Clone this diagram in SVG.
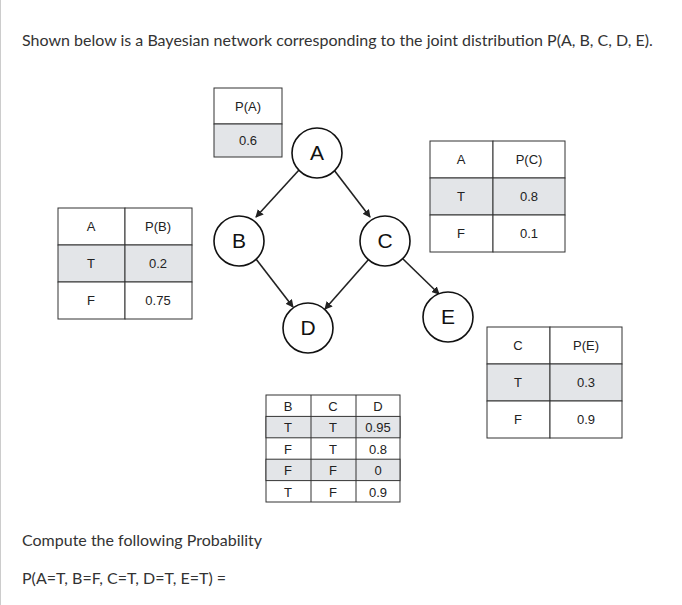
<svg xmlns="http://www.w3.org/2000/svg" width="682" height="605" viewBox="0 0 682 605">
<style>
.t{font-family:Lato,"Liberation Sans",sans-serif;font-size:16px;fill:#333}
.c{font-family:"Liberation Sans",Arial,sans-serif;font-size:13px;fill:#222;text-anchor:middle}
.n{font-family:"Liberation Sans",Arial,sans-serif;font-size:21px;fill:#111;text-anchor:middle}
.cell{fill:#fff;stroke:#333;stroke-width:1}
.g{fill:#e3e5e8;stroke:#333;stroke-width:1}
.node{fill:#fff;stroke:#111;stroke-width:1.6}
.e{stroke:#222;stroke-width:1.6;fill:none;marker-end:url(#ah)}
</style>
<defs><marker id="ah" markerWidth="8" markerHeight="8" refX="7" refY="4" orient="auto" markerUnits="userSpaceOnUse"><path d="M0,0 L8,4 L0,8 z" fill="#222"/></marker></defs>
<rect width="682" height="605" fill="#fff"/>
<line x1="0.5" y1="0" x2="0.5" y2="605" stroke="#ccc"/>
<text class="t" x="22" y="46">Shown below is a Bayesian network corresponding to the joint distribution P(A, B, C, D, E).</text>
<g id="tableA"><rect class="cell" x="214" y="88" width="68" height="36"/><rect class="g" x="214" y="124" width="68" height="33"/>
<text class="c" x="248" y="111">P(A)</text><text class="c" x="248" y="145">0.6</text></g>
<g id="tableB">
<rect class="cell" x="58" y="208" width="67" height="37"/><rect class="cell" x="125" y="208" width="67" height="37"/>
<rect class="g" x="58" y="245" width="67" height="37"/><rect class="g" x="125" y="245" width="67" height="37"/>
<rect class="cell" x="58" y="282" width="67" height="37"/><rect class="cell" x="125" y="282" width="67" height="37"/>
<text class="c" x="91" y="231">A</text><text class="c" x="158" y="231">P(B)</text>
<text class="c" x="91" y="268">T</text><text class="c" x="158" y="268">0.2</text>
<text class="c" x="91" y="305">F</text><text class="c" x="158" y="305">0.75</text></g>
<g id="tableC">
<rect class="cell" x="430" y="141" width="63" height="37"/><rect class="cell" x="493" y="141" width="72" height="37"/>
<rect class="g" x="430" y="178" width="63" height="37"/><rect class="g" x="493" y="178" width="72" height="37"/>
<rect class="cell" x="430" y="215" width="63" height="37"/><rect class="cell" x="493" y="215" width="72" height="37"/>
<text class="c" x="461" y="164">A</text><text class="c" x="529" y="164">P(C)</text>
<text class="c" x="461" y="201">T</text><text class="c" x="529" y="201">0.8</text>
<text class="c" x="461" y="238">F</text><text class="c" x="529" y="238">0.1</text></g>
<g id="tableE">
<rect class="cell" x="487" y="327" width="63" height="37"/><rect class="cell" x="550" y="327" width="72" height="37"/>
<rect class="g" x="487" y="364" width="63" height="37"/><rect class="g" x="550" y="364" width="72" height="37"/>
<rect class="cell" x="487" y="401" width="63" height="37"/><rect class="cell" x="550" y="401" width="72" height="37"/>
<text class="c" x="518" y="350">C</text><text class="c" x="586" y="350">P(E)</text>
<text class="c" x="518" y="387">T</text><text class="c" x="586" y="387">0.3</text>
<text class="c" x="518" y="424">F</text><text class="c" x="586" y="424">0.9</text></g>
<g id="tableD">
<rect class="cell" x="266" y="395" width="134" height="107"/>
<rect class="g" x="266" y="416.4" width="134" height="21.4"/>
<rect class="g" x="266" y="459.2" width="134" height="21.4"/>
<line x1="311" y1="395" x2="311" y2="502" stroke="#333"/><line x1="356" y1="395" x2="356" y2="502" stroke="#333"/>
<text class="c" x="288" y="411">B</text><text class="c" x="333" y="411">C</text><text class="c" x="378" y="411">D</text>
<text class="c" x="288" y="432">T</text><text class="c" x="333" y="432">T</text><text class="c" x="378" y="432">0.95</text>
<text class="c" x="288" y="454">F</text><text class="c" x="333" y="454">T</text><text class="c" x="378" y="454">0.8</text>
<text class="c" x="288" y="475">F</text><text class="c" x="333" y="475">F</text><text class="c" x="378" y="475">0</text>
<text class="c" x="288" y="497">T</text><text class="c" x="333" y="497">F</text><text class="c" x="378" y="497">0.9</text></g>
<g id="connectors">
<line class="e" x1="299" y1="170" x2="256" y2="217"/>
<line class="e" x1="334" y1="170" x2="370" y2="217"/>
<line class="e" x1="256" y1="259" x2="293" y2="307"/>
<line class="e" x1="369" y1="259" x2="325" y2="309"/>
<line class="e" x1="403" y1="259" x2="439" y2="294"/>
</g>
<g id="nodeA"><circle class="node" cx="317" cy="153" r="25"/><text class="n" x="317" y="160">A</text></g>
<g id="nodeB"><circle class="node" cx="239" cy="241" r="25"/><text class="n" x="239" y="248">B</text></g>
<g id="nodeC"><circle class="node" cx="385" cy="241" r="25"/><text class="n" x="385" y="248">C</text></g>
<g id="nodeD"><circle class="node" cx="308" cy="328" r="25"/><text class="n" x="308" y="335">D</text></g>
<g id="nodeE"><circle class="node" cx="448" cy="317" r="25"/><text class="n" x="448" y="324">E</text></g>
<text class="t" x="22" y="546">Compute the following Probability</text>
<text class="t" x="22" y="584">P(A=T, B=F, C=T, D=T, E=T) =</text>
</svg>
